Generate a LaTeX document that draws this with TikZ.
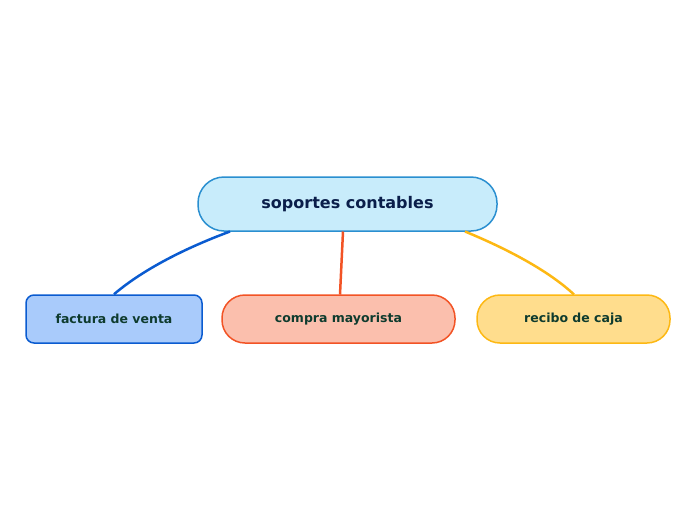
\documentclass[tikz,border=0pt]{standalone}
\usepackage{fontspec}
\setmainfont{DejaVu Sans}
\definecolor{rootfill}{HTML}{C8ECFB}\definecolor{rootline}{HTML}{2A8FD0}
\definecolor{roottext}{HTML}{0A1E4A}\definecolor{subtext}{HTML}{0E3B2E}
\definecolor{bfill}{HTML}{A9CBFB}\definecolor{bline}{HTML}{0A5BD0}
\definecolor{ofill}{HTML}{FBBFAD}\definecolor{oline}{HTML}{F25325}
\definecolor{yfill}{HTML}{FFDD8D}\definecolor{yline}{HTML}{FDB813}
\begin{document}
\begin{tikzpicture}[x=1pt,y=-1pt,
 sub/.style={draw,line width=1.5pt,minimum height=48pt,inner sep=0pt,text=subtext,font=\fontsize{12.5}{14}\selectfont\bfseries},
 conn/.style={line width=2.5pt}]
\useasboundingbox (0,0) rectangle (696,520);
\node[draw=rootline,fill=rootfill,line width=1.5pt,rounded corners=26pt,minimum width=299pt,minimum height=54pt,text=roottext,font=\fontsize{16}{18}\selectfont\bfseries] (root) at (347.5,204) {soportes contables};
\node[sub,draw=bline,fill=bfill,rounded corners=8pt,minimum width=176pt] (a) at (114,319) {factura de venta};
\node[sub,draw=oline,fill=ofill,rounded corners=23pt,minimum width=233pt] (b) at (338.5,319) {compra mayorista};
\node[sub,draw=yline,fill=yfill,rounded corners=23pt,minimum width=193pt] (c) at (573.5,319) {recibo de caja};
\begin{scope}[on background layer/.try]
\end{scope}
\draw[conn,draw=bline] (230,231.5) .. controls (180,250) and (140,272) .. (a.north);
\draw[conn,draw=oline] (343,231.5) -- (340,294.5);
\draw[conn,draw=yline] (465,231.5) .. controls (510,250) and (550,272) .. (574,294.5);
\end{tikzpicture}
\end{document}
